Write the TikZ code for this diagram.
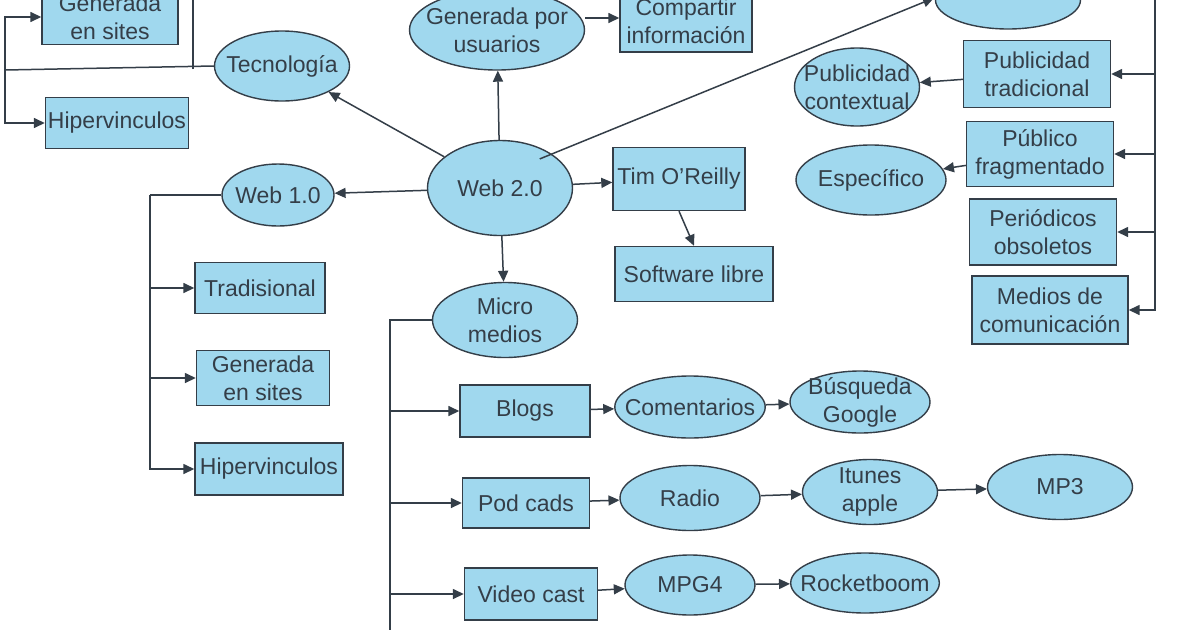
\documentclass[tikz,border=0pt]{standalone}
\usepackage{fontspec}
\setmainfont{Liberation Sans}
\usetikzlibrary{arrows.meta,shapes.geometric}
\definecolor{fillb}{RGB}{160,216,238}
\definecolor{ln}{RGB}{52,62,72}
\begin{document}
\begin{tikzpicture}[x=1pt,y=-1pt,
  base/.style={draw=ln,fill=fillb,line width=1.4pt,text=ln,align=center,font=\fontsize{23}{28}\selectfont,inner sep=0pt},
  bx/.style={base,rectangle},
  el/.style={base,ellipse,inner xsep=-12pt,inner ysep=-4pt},
  ar/.style={draw=ln,line width=1.5pt,-{Triangle[length=11pt,width=10pt]}},
  ln/.style={draw=ln,line width=1.5pt}]
\useasboundingbox (0,0) rectangle (1200,630);
\fill[white] (0,0) rectangle (1200,630);
\clip (0,0) rectangle (1200,630);
% nodes
\node[bx,minimum width=136pt,minimum height=55pt] (gs1) at (110,17) {Generada\\en sites};
\node[el,minimum width=135pt,minimum height=70pt] (tec) at (282,66) {Tecnología};
\node[bx,minimum width=143pt,minimum height=51pt] (hip1) at (117,123) {Hipervinculos};
\node[el,minimum width=175pt,minimum height=80pt] (gpu) at (497,30) {Generada por\\usuarios};
\node[bx,minimum width=132pt,minimum height=62pt] (comp) at (686,21) {Compartir\\información};
\node[el,minimum width=145pt,minimum height=58pt] (tr) at (1008,0) {};
\node[el,minimum width=145pt,minimum height=95pt] (w2) at (500,188) {Web 2.0};
\node[bx,minimum width=132pt,minimum height=63pt] (tim) at (679,179) {Tim O’Reilly};
\node[bx,minimum width=158pt,minimum height=55pt] (sw) at (694,274) {Software libre};
\node[el,minimum width=112pt,minimum height=62pt] (w1) at (278,195) {Web 1.0};
\node[bx,minimum width=130pt,minimum height=51pt] (tra) at (260,288) {Tradisional};
\node[bx,minimum width=133pt,minimum height=55pt] (gs2) at (263,378) {Generada\\en sites};
\node[bx,minimum width=148pt,minimum height=52pt] (hip2) at (269,469) {Hipervinculos};
\node[el,minimum width=145pt,minimum height=75pt] (mm) at (505,320) {Micro\\medios};
\node[bx,minimum width=130pt,minimum height=52pt] (blog) at (525,411) {Blogs};
\node[el,minimum width=140pt,minimum height=62pt] (com) at (690,407) {Comentarios};
\node[el,minimum width=140pt,minimum height=62pt] (bus) at (860,402) {Búsqueda\\Google};
\node[bx,minimum width=127pt,minimum height=50pt] (pod) at (526,503) {Pod cads};
\node[el,minimum width=140pt,minimum height=65pt] (rad) at (690,498) {Radio};
\node[el,minimum width=135pt,minimum height=65pt] (itu) at (870,492) {Itunes\\apple};
\node[el,minimum width=145pt,minimum height=65pt] (mp3) at (1060,487) {MP3};
\node[bx,minimum width=133pt,minimum height=52pt] (vid) at (531,594) {Video cast};
\node[el,minimum width=130pt,minimum height=60pt] (mpg) at (690,585) {MPG4};
\node[el,minimum width=115pt,minimum height=60pt] (roc) at (865,583) {Rocketboom};
\node[bx,minimum width=147pt,minimum height=67pt] (pt) at (1037,74) {Publicidad\\tradicional};
\node[el,minimum width=125pt,minimum height=78pt] (pc) at (857,87) {Publicidad\\contextual};
\node[bx,minimum width=147pt,minimum height=65pt] (pf) at (1040,154) {Público\\fragmentado};
\node[el,minimum width=150pt,minimum height=70pt] (esp) at (871,180) {Específico};
\node[bx,minimum width=147pt,minimum height=66pt] (po) at (1043,232) {Periódicos\\obsoletos};
\node[bx,minimum width=156pt,minimum height=68pt] (mc) at (1050,310) {Medios de\\comunicación};
% helper coordinates
\coordinate (tl) at (5,70);
\coordinate (tu) at (193,0);
\coordinate (tm) at (193,69);
\coordinate (w1c) at (150,195);
\coordinate (mmc) at (390,320);
\coordinate (mmb) at (390,630);
\coordinate (rtop) at (1155,0);
\coordinate (rbot) at (1155,306);
\coordinate (trw) at (934,-2);
% connectors
\draw[ar] (w2) -- (tec);
\draw[ar] (w2) -- (gpu);
\draw[ar] (w2.north east) ++(-12,5) -- (trw);
\draw[ar] (w2) -- (tim);
\draw[ar] (w2) -- (w1);
\draw[ar] (w2) -- (mm);
\draw[ar] (gpu.east) ++(0,-12) coordinate (ge) -- (ge -| comp.west);
\draw[ar] (tim.south) -- (sw.north);
\draw[ln] (tec.west) -- (tl);
\draw[ln] (tm) -- (tu);
\draw[ar] (tl) |- (gs1.west);
\draw[ar] (tl) |- (hip1.west);
\draw[ln] (w1.west) -- (w1c);
\draw[ar] (w1c) |- (tra.west);
\draw[ar] (w1c) |- (gs2.west);
\draw[ar] (w1c) |- (hip2.west);
\draw[ln] (mm.west) -- (mmc) -- (mmb);
\draw[ar] (mmc) |- (blog.west);
\draw[ar] (mmc) |- (pod.west);
\draw[ar] (mmc) |- (vid.west);
\draw[ar] (blog) -- (com);
\draw[ar] (com) -- (bus);
\draw[ar] (pod) -- (rad);
\draw[ar] (rad) -- (itu);
\draw[ar] (itu) -- (mp3);
\draw[ar] (vid) -- (mpg);
\draw[ar] (mpg) -- (roc);
\draw[ln] (rtop) -- (rbot);
\draw[ar] (rtop) |- (pt.east);
\draw[ar] (rtop) |- (pf.east);
\draw[ar] (rtop) |- (po.east);
\draw[ar] (rtop) |- (mc.east);
\draw[ar] (pt) -- (pc);
\draw[ar] (pf) -- (esp);
\end{tikzpicture}
\end{document}
